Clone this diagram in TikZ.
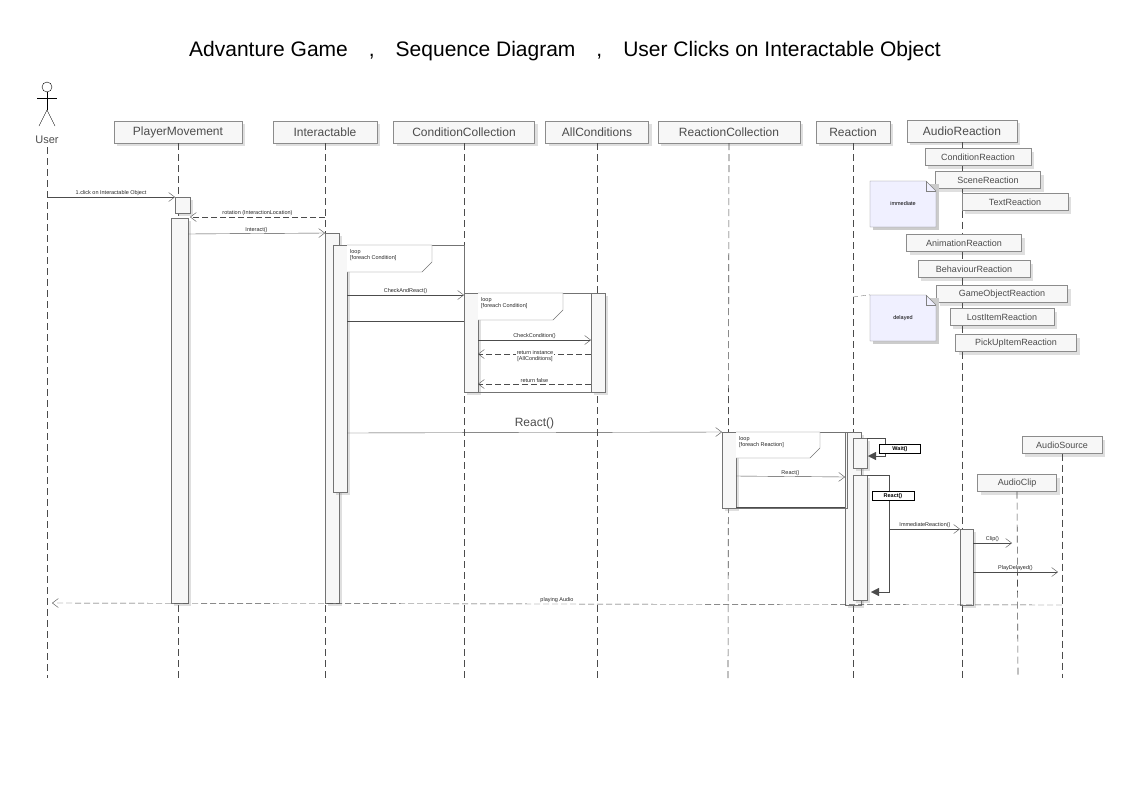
\documentclass[tikz,border=0pt]{standalone}
\usepackage{fontspec}
\setmainfont{Liberation Sans}
\usetikzlibrary{shadows,arrows.meta}
\begin{document}
\begin{tikzpicture}[x=1pt,y=-1pt,
  hdr/.style={draw=black!45,fill=black!3,text=black!70,font=\fontsize{12}{13}\selectfont,inner sep=0pt,minimum height=22pt,drop shadow={opacity=0.25,shadow xshift=3pt,shadow yshift=-3pt}},
  sub/.style={draw=black!45,fill=black!3,text=black!70,font=\fontsize{9}{10}\selectfont,inner sep=0pt,minimum height=17pt,drop shadow={opacity=0.25,shadow xshift=3pt,shadow yshift=-3pt}},
  life/.style={black!70,dash pattern=on 7pt off 4pt,line width=0.6pt},
  act/.style={draw=black!55,fill=black!3,drop shadow={opacity=0.25,shadow xshift=3pt,shadow yshift=-3pt}},
  msg/.style={black!70,-{Straight Barb[length=6pt,width=9pt]}},
  ret/.style={black!70,dash pattern=on 6pt off 3pt,-{Straight Barb[length=6pt,width=9pt]}},
  lbl/.style={font=\fontsize{5.5}{6.5}\selectfont,text=black!85,inner sep=1pt},
  frame/.style={draw=black!55},
  note/.style={draw=black!50,fill=blue!6,font=\fontsize{5.5}{6.5}\selectfont,minimum width=66pt,minimum height=46pt},
  tag/.style={draw=black,fill=white,font=\fontsize{5.5}{6.5}\selectfont\bfseries,inner sep=1pt,minimum height=9pt}]
\useasboundingbox (0,0) rectangle (1122,793);
\node (title) at (565,51) {\fontsize{21}{24}\selectfont Advanture Game\quad ,\quad Sequence Diagram\quad ,\quad User Clicks on Interactable Object};

% actor
\node[draw,circle,minimum size=10pt,inner sep=0pt] (head) at (47,87) {};
\draw (head.south) -- (47,110) coordinate (hip);
\draw (37,98) -- (57,98);
\draw (hip) -- (39,126); \draw (hip) -- (55,126);
\node[text=black!70,font=\fontsize{11}{12}\selectfont] (user) at (47,140) {User};

% headers
\node[hdr,minimum width=128pt] (pm) at (178,132) {PlayerMovement};
\node[hdr,minimum width=104pt] (ia) at (325,132) {Interactable};
\node[hdr,minimum width=141pt] (cc) at (464,132) {ConditionCollection};
\node[hdr,minimum width=103pt] (ac) at (597,132) {AllConditions};
\node[hdr,minimum width=142pt] (rc) at (729,132) {ReactionCollection};
\node[hdr,minimum width=74pt] (re) at (853,132) {Reaction};
\node[hdr,minimum width=110pt] (ar) at (962,131) {AudioReaction};
\node[sub,minimum width=106pt] (s1) at (978,157) {ConditionReaction};
\node[sub,minimum width=105pt] (s2) at (988,180) {SceneReaction};
\node[sub,minimum width=106pt] (s3) at (1015,202) {TextReaction};
\node[sub,minimum width=115pt] (s4) at (964,243) {AnimationReaction};
\node[sub,minimum width=112pt] (s5) at (974,269) {BehaviourReaction};
\node[sub,minimum width=131pt] (s6) at (1002,294) {GameObjectReaction};
\node[sub,minimum width=104pt] (s7) at (1002,317) {LostItemReaction};
\node[sub,minimum width=121pt] (s8) at (1016,343) {PickUpItemReaction};
\node[sub,minimum width=80pt] (as) at (1062,445) {AudioSource};
\node[sub,minimum width=79pt] (acl) at (1017,483) {AudioClip};

% lifelines
\foreach \n/\x in {user/47,pm/178,ia/325,cc/464,ac/597,rc/728,re/853,as/1062,acl/1018}{
  \coordinate (\n-end) at (\x,678);
  \draw[life] (\n.south) -- (\n-end);}
\coordinate (ar-end) at (962,678);
\draw[life] (ar.south) -- (s1.north -| ar);
\draw[life] (s1.south -| ar) -- (s2.north -| ar);
\draw[life] (s2.south -| ar) -- (s3.north -| ar);
\draw[life] (s3.south -| ar) -- (s4.north -| ar);
\draw[life] (s4.south -| ar) -- (s5.north -| ar);
\draw[life] (s5.south -| ar) -- (s6.north -| ar);
\draw[life] (s6.south -| ar) -- (s7.north -| ar);
\draw[life] (s7.south -| ar) -- (s8.north -| ar);
\draw[life] (s8.south -| ar) -- (ar-end);

% notes
\foreach \n/\y/\t in {n1/204/immediate,n2/318/delayed}{
  \fill[black!20] (873,\y-20) -- (939,\y-20) -- (939,\y+26) -- (873,\y+26) -- cycle;
  \path[draw=black!50,fill=blue!6] (870,\y-23) -- (926,\y-23) -- (936,\y-13) -- (936,\y+23) -- (870,\y+23) -- cycle;
  \draw[black!50] (926,\y-23) -- (926,\y-13) -- (936,\y-13);
  \node[note,draw=none,fill=none] (\n) at (903,\y) {\t};}
\draw[black!50,dash pattern=on 5pt off 3pt] (853,297) -- (n2.north west);

% activations
\draw[act] (175,197) rectangle (190,213);
\draw[act] (171,218) rectangle (188,603);
\draw[act] (325,233) rectangle (339,603);
\draw[act] (333,245) rectangle (347,492);
\draw[act] (464,293) rectangle (478,392);
\draw[act] (591,293) rectangle (605,392);
\draw[act] (722,432) rectangle (736,508);
\draw[act] (845,432) rectangle (861,605);
\draw[act] (853,438) rectangle (867,468);
\draw[act] (853,475) rectangle (867,600);
\draw[act] (960,529) rectangle (973,605);

% loop frames
\draw[frame] (347,245) rectangle (464,321);
\draw[frame,fill=white] (347,245) -- (432,245) -- (432,262) -- (422,272) -- (347,272);
\node[lbl,anchor=north west,align=left] at (349,248) {loop\\{}[foreach Condition]};
\draw[frame] (478,293) rectangle (591,392);
\draw[frame,fill=white] (478,293) -- (563,293) -- (563,310) -- (553,320) -- (478,320);
\node[lbl,anchor=north west,align=left] at (480,296) {loop\\{}[foreach Condition]};
\draw[frame] (736,432) rectangle (847,508);
\draw[frame,fill=white] (736,432) -- (820,432) -- (820,448) -- (810,458) -- (736,458);
\node[lbl,anchor=north west,align=left] at (738,435) {loop\\{}[foreach Reaction]};

% messages
\draw[msg] (user) ++(0,57) -- node[lbl,above,pos=0.5] {1.click on Interactable Object} (175,197);
\draw[ret] (325,217) -- node[lbl,above] {rotation (InteractionLocation)} (190,217);
\draw[msg] (188,234) -- node[lbl,above] {Interact()} (325,233);
\draw[msg] (347,295) -- node[lbl,above] {CheckAndReact()} (464,295);
\draw[black!70] (347,321) -- (464,321);
\draw[msg] (478,340) -- node[lbl,above] {CheckCondition()} (591,340);
\draw[ret] (591,354) -- (478,354);
\node[lbl,align=center,fill=white] (ri) at (535,356) {return instance\\{}[AllConditions]};
\draw[ret] (591,384) -- node[lbl,above] {return false} (478,384);
\draw[msg] (347,433) -- node[above,text=black!70,font=\fontsize{12}{13}\selectfont,pos=0.5] {React()} (722,432);
\draw[msg] (736,476) -- node[lbl,above] {React()} (845,477);
\draw[black!70] (736,507) -- (845,507);
\draw[msg] (890,529) -- node[lbl,above] {ImmediateReaction()} (960,529);
\draw[msg] (973,543) -- node[lbl,above] {Clip()} (1012,543);
\draw[msg] (973,572) -- node[lbl,above] {PlayDelayed()} (1058,572);
\draw[ret] (1062,605) -- node[lbl,above,pos=0.5] {playing Audio} (52,603);

% self messages
\draw[black!70,-{Triangle[length=8pt,width=8pt]}] (867,438) -- (885,438) -- (885,456) -- (868,456);
\node[tag,minimum width=41pt] (wait) at (900,449) {Wait()};
\draw[black!70,-{Triangle[length=8pt,width=8pt]}] (867,475) -- (889,475) -- (889,592) -- (871,592);
\node[tag,minimum width=42pt] (react) at (893,496) {React()};
\end{tikzpicture}
\end{document}
